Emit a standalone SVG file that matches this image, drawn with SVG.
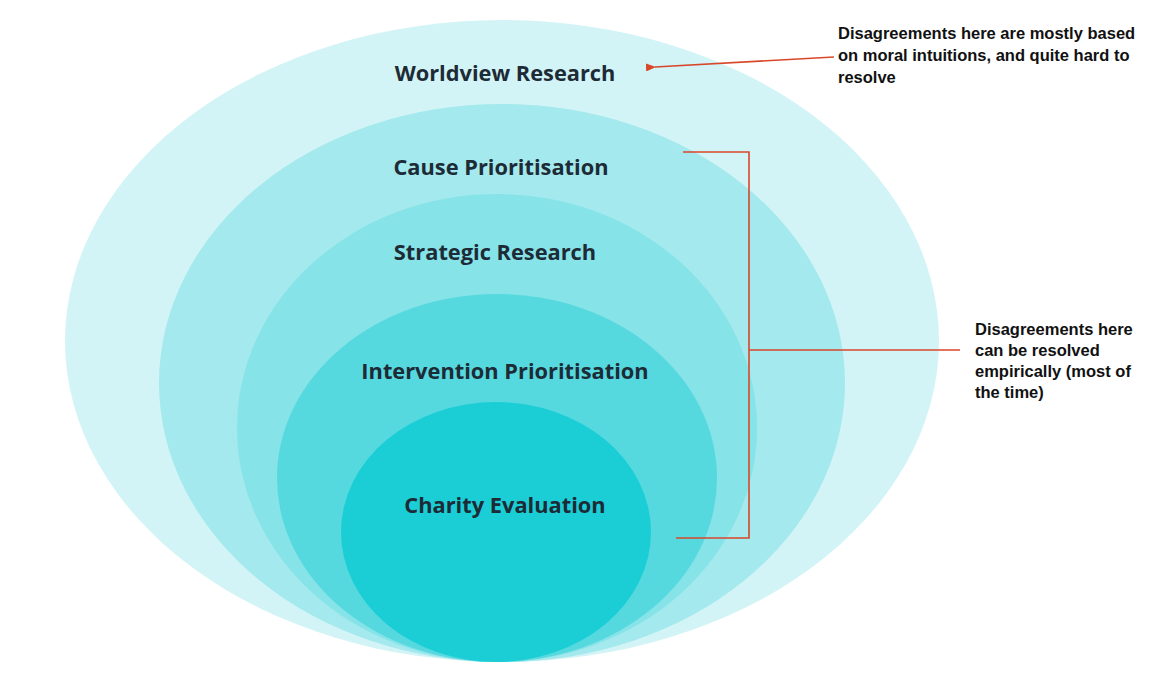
<svg xmlns="http://www.w3.org/2000/svg" width="1175" height="694" viewBox="0 0 1175 694">
<style>
.lbl{font-family:"Open Sans","Noto Sans",sans-serif;font-weight:bold;font-size:21.8px;fill:#1d2b36;text-anchor:middle}
.note{font-family:"Liberation Sans",Arial,sans-serif;font-weight:bold;font-size:16.5px;fill:#111}
.ln{stroke:#d9472b;stroke-width:1.6;fill:none}
</style>
<defs><marker id="ah" markerWidth="10" markerHeight="8" refX="1" refY="4" orient="auto" markerUnits="userSpaceOnUse"><path d="M10,0 L0,4 L10,8 Z" fill="#d9472b"/></marker></defs>
<rect width="1175" height="694" fill="#fff"/>
<g id="worldview"><ellipse cx="502" cy="341" rx="437" ry="321" fill="#d3f4f6"/><text class="lbl" x="505" y="81">Worldview Research</text></g>
<g id="cause"><ellipse cx="502" cy="383" rx="343" ry="279" fill="#a3e9ed"/><text class="lbl" x="501" y="175">Cause Prioritisation</text></g>
<g id="strategic"><ellipse cx="497" cy="428" rx="260" ry="234" fill="#86e3e8"/><text class="lbl" x="495" y="260">Strategic Research</text></g>
<g id="intervention"><ellipse cx="497" cy="478" rx="220" ry="184" fill="#55d9df"/><text class="lbl" x="505" y="379">Intervention Prioritisation</text></g>
<g id="charity"><ellipse cx="496" cy="532" rx="155" ry="130" fill="#1bced5"/><text class="lbl" x="505" y="513">Charity Evaluation</text></g>
<g id="note1"><text class="note"><tspan x="838" y="39">Disagreements here are mostly based</tspan><tspan x="838" y="61">on moral intuitions, and quite hard to</tspan><tspan x="838" y="83">resolve</tspan></text></g>
<g id="note2"><text class="note"><tspan x="975" y="335">Disagreements here</tspan><tspan x="975" y="356">can be resolved</tspan><tspan x="975" y="377">empirically (most of</tspan><tspan x="975" y="398">the time)</tspan></text></g>
<g id="connectors">
<line class="ln" x1="834" y1="57" x2="655" y2="67" marker-end="url(#ah)"/>
<path class="ln" d="M683,152 H749 V538 H676 M749,350 H960"/>
</g>
</svg>
